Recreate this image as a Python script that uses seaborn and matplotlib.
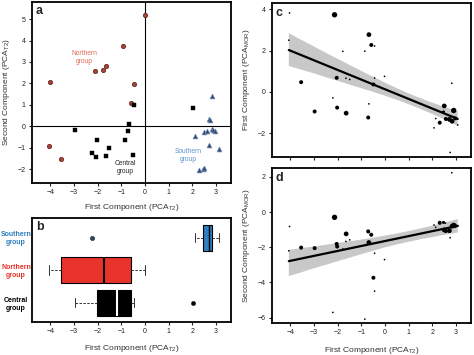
import numpy as np
import pandas as pd
import matplotlib
matplotlib.use("Agg")
import matplotlib.pyplot as plt
import seaborn as sns

sns.set_theme(style="white")
plt.rcParams["font.family"] = ["Liberation Sans", "DejaVu Sans"]
plt.rcParams["mathtext.fontset"] = "custom"
plt.rcParams["mathtext.rm"] = "Liberation Sans"

# ---------------- data: panel a (PCA T2 scores) ----------------
north_x = [0.00, -0.94, -1.66, -1.78, -2.13, -0.46, -4.03, -0.60, -4.06, -3.55]
north_y = [5.18, 3.76, 2.81, 2.61, 2.60, 1.99, 2.08, 1.07, -0.93, -1.54]
central_x = [-0.47, -0.68, -0.73, -2.96, -2.03, -0.85, -1.50, -2.22, -2.06, -1.66, -0.51, 2.03]
central_y = [1.01, 0.12, -0.23, -0.16, -0.62, -0.64, -1.03, -1.26, -1.43, -1.38, -1.32, 0.87]
south_x = [2.11, 2.27, 2.44, 2.48, 2.50, 2.60, 2.71, 2.72, 2.76, 2.82, 2.84, 2.89, 2.96, 3.12, -2.25]
south_y = [-0.45, -2.02, -1.98, -0.28, -1.96, -0.22, -0.89, 0.36, 0.28, 1.40, -0.12, -0.19, -0.23, -1.04, -2.90]

group_names = ["Central\ngroup", "Northern\ngroup", "Southern\ngroup"]
group_colors = ["#000000", "#e8332b", "#2f7fc1"]

# ---------------- data: panels c, d (PCA T2 vs PCA MOR) ----------------
samp_x = [-4.03, -4.06, -3.54, -2.97, -2.13, -2.04, -2.02, -2.20, -1.78, -1.65, -1.49, -1.64,
          -0.68, -0.58, -0.44, -0.85, -0.68, -0.71, -0.49, -0.44, -0.02,
          2.07, 2.14, 2.31, 2.47, 2.50, 2.55, 2.90, 2.57, 2.72, 2.83, 2.96, 3.07, 2.82, 2.75]
mor1 = [3.82, 2.50, 0.47, -0.95, 3.73, 0.68, -0.76, -0.29, 1.96, 0.66, 0.60, -1.03,
        2.77, 2.27, 2.22, 1.97, -0.58, -1.24, 0.36, 0.67, 0.75,
        -1.74, -1.29, -1.49, -0.97, -0.68, -0.68, -0.90, -1.31, -1.33, -1.42, -1.28, -1.60, 0.42, -2.93]
mor2 = [-0.82, -2.20, -2.02, -2.05, -0.30, -1.81, -1.96, -5.70, -2.10, -1.67, -1.58, -1.24,
        -1.73, -1.29, -2.34, -6.08, -1.15, -1.10, -3.73, -4.49, -2.70,
        -0.74, -0.87, -0.61, -0.59, -1.02, -0.63, -0.76, -1.08, -1.06, -0.80, -0.78, -0.80, 2.23, -1.46]
weight = [1, 1, 3, 3, 5, 3, 3, 1, 1, 1, 1, 4,
          4, 3, 1, 1, 1, 3, 3, 1, 1,
          1, 1, 3, 2, 4, 1, 5, 3, 4, 4, 3, 1, 1, 1]

ticks_x = [-4, -3, -2, -1, 0, 1, 2, 3]
xlim = (-4.77, 3.63)

lab_t2x = r"First Component (PCA$_{\mathregular{T2}}$)"
lab_t2y = r"Second Component (PCA$_{\mathregular{T2}}$)"
lab_m1 = r"First Component (PCA$_{\mathregular{MOR}}$)"
lab_m2 = r"Second Component (PCA$_{\mathregular{MOR}}$)"

W, H = 474, 355
fig = plt.figure(figsize=(W / 100, H / 100), dpi=100)


def box(l, t, r, b):
    return [l / W, 1 - b / H, (r - l) / W, (b - t) / H]


axa = fig.add_axes(box(32, 2, 231, 183))
axb = fig.add_axes(box(32, 218, 231, 322))
axc = fig.add_axes(box(272, 3, 471, 157))
axd = fig.add_axes(box(272, 168, 471, 323))

txtc = "#222222"
for ax in (axa, axb, axc, axd):
    for s in ax.spines.values():
        s.set_linewidth(1.3)
        s.set_color("black")
    ax.tick_params(axis="both", which="both", direction="out", length=2.5, width=0.8,
                   labelsize=5, colors=txtc, pad=2, bottom=True, left=True)
    ax.set_xlim(*xlim)
    ax.set_xticks(ticks_x)

# ---------------- panel a ----------------
axa.axhline(0, color="black", lw=0.8, zorder=1)
axa.axvline(0, color="black", lw=0.8, zorder=1)
sns.scatterplot(x=north_x, y=north_y, ax=axa, marker="o", s=9, color="#a8443a",
                edgecolor="#6e241d", linewidth=0.6, zorder=3)
sns.scatterplot(x=central_x, y=central_y, ax=axa, marker="s", s=8, color="black",
                edgecolor="black", linewidth=0.3, zorder=3)
sns.scatterplot(x=south_x, y=south_y, ax=axa, marker="^", s=12, color="#34425e",
                edgecolor="#6f8fc0", linewidth=0.5, zorder=3)
axa.set_ylim(-2.65, 5.8)
axa.set_yticks([-2, -1, 0, 1, 2, 3, 4, 5])
axa.set_xlabel(lab_t2x, fontsize=6, color="#333333")
axa.set_ylabel(lab_t2y, fontsize=6, color="#333333")
axa.xaxis.set_label_coords(0.5, -0.105)
axa.yaxis.set_label_coords(-0.1, 0.5)
axa.text(-2.57, 3.22, "Northern\ngroup", color="#e06a55", fontsize=4.8, ha="center", va="center")
axa.text(-0.84, -1.92, "Central\ngroup", color="#222222", fontsize=4.8, ha="center", va="center")
axa.text(1.81, -1.35, "Southern\ngroup", color="#5b93cf", fontsize=4.8, ha="center", va="center")
axa.text(0.02, 0.985, "a", transform=axa.transAxes, fontsize=9, fontweight="bold",
         ha="left", va="top")


# ---------------- panel b ----------------
def fivenum_stats(vals):
    v = np.sort(np.asarray(vals, dtype=float))
    n = len(v)
    n4 = np.floor((n + 3) / 2) / 2
    d = np.array([1, n4, (n + 1) / 2, n + 1 - n4, n]) - 1
    f = 0.5 * (v[np.floor(d).astype(int)] + v[np.ceil(d).astype(int)])
    iqr = f[3] - f[1]
    lo, hi = f[1] - 1.5 * iqr, f[3] + 1.5 * iqr
    inside = v[(v >= lo) & (v <= hi)]
    return dict(med=f[2], q1=f[1], q3=f[3], whislo=inside.min(), whishi=inside.max(),
                fliers=v[(v < lo) | (v > hi)])


stats = [fivenum_stats(central_x), fivenum_stats(north_x), fivenum_stats(south_x)]
kw = dict(positions=[0, 1, 2], widths=0.8, patch_artist=True, capwidths=0.3,
          boxprops=dict(edgecolor="black", linewidth=0.8),
          whiskerprops=dict(linestyle=(0, (2.5, 1.5)), linewidth=0.7, color="#333333"),
          capprops=dict(linewidth=0.7, color="#333333"),
          medianprops=dict(linewidth=1.5),
          flierprops=dict(marker="o", markersize=3.0, markeredgewidth=0.4))
try:
    res = axb.bxp(stats, orientation="horizontal", **kw)
except TypeError:
    res = axb.bxp(stats, vert=False, **kw)
med_cols = ["white", "black", "black"]
flier_cols = ["black", "#e8332b", "#26456f"]
for i in range(3):
    res["boxes"][i].set_facecolor(group_colors[i])
    res["medians"][i].set_color(med_cols[i])
    res["fliers"][i].set_markerfacecolor(flier_cols[i])
    res["fliers"][i].set_markeredgecolor("#222222")
res["medians"][2].set_linewidth(1.0)
axb.set_ylim(-0.6, 2.6)
axb.set_xlim(*xlim)
axb.set_xticks(ticks_x)
axb.set_xticklabels([str(t).replace("-", "\u2212") for t in ticks_x])
axb.set_yticks([0, 1, 2])
axb.set_yticklabels(group_names, fontsize=5, fontweight="bold", ha="center",
                    multialignment="center")
axb.tick_params(axis="y", length=0, pad=11.5)
for lbl, c in zip(axb.get_yticklabels(), group_colors):
    lbl.set_color(c)
axb.set_xlabel(lab_t2x, fontsize=6, color="#333333")
axb.xaxis.set_label_coords(0.5, -0.205)
axb.text(0.02, 0.97, "b", transform=axb.transAxes, fontsize=9, fontweight="bold",
         ha="left", va="top")

# ---------------- panels c, d ----------------
df = pd.DataFrame({"x": samp_x, "m1": mor1, "m2": mor2, "w": weight})
for ax, col, yl, yt, lab, letter in (
        (axc, "m1", (-3.15, 4.3), [-2, 0, 2, 4], lab_m1, "c"),
        (axd, "m2", (-6.3, 2.5), [-6, -4, -2, 0, 2], lab_m2, "d")):
    sns.regplot(data=df, x="x", y=col, ax=ax, scatter=False, color="black", ci=85,
                line_kws=dict(lw=1.6), seed=3, n_boot=2000)
    for coll in ax.collections:
        coll.set_facecolor("#c8c8c8")
        coll.set_alpha(1)
        coll.set_edgecolor("none")
    sns.scatterplot(data=df, x="x", y=col, size="w", sizes=(1.5, 15), color="black",
                    edgecolor="none", legend=False, ax=ax, zorder=3)
    ax.set_ylim(*yl)
    ax.set_yticks(yt)
    ax.set_xlim(*xlim)
    ax.set_xticks(ticks_x)
    ax.set_ylabel(lab, fontsize=6, color="#333333")
    ax.yaxis.set_label_coords(-0.1, 0.5)
    ax.text(0.02, 0.975, letter, transform=ax.transAxes, fontsize=9, fontweight="bold",
            ha="left", va="top")

axc.set_xlabel("")
axc.tick_params(axis="x", labelbottom=False)
axd.set_xlabel(lab_t2x, fontsize=6, color="#333333")
axd.xaxis.set_label_coords(0.5, -0.14)

fig.savefig("out.png", dpi=100)
